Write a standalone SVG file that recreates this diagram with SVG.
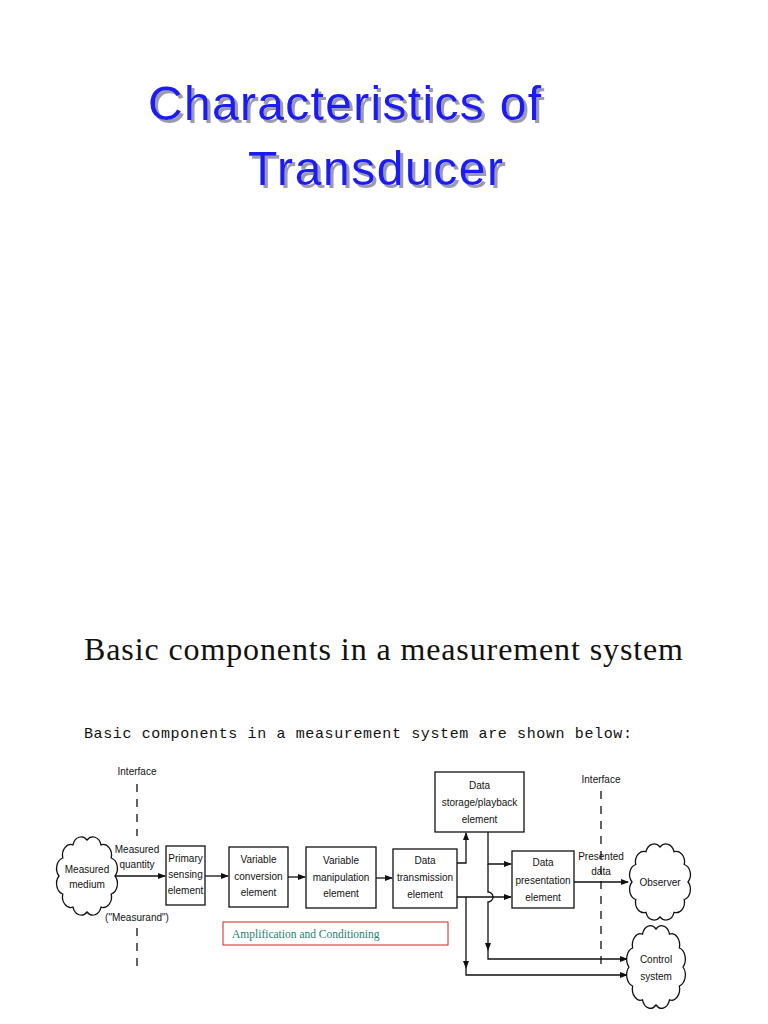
<svg xmlns="http://www.w3.org/2000/svg" width="768" height="1024" viewBox="0 0 768 1024">
<style>
.t{font-family:"Liberation Sans",Arial,sans-serif;font-size:10px;fill:#111;text-anchor:middle}
.b{fill:#fff;stroke:#111;stroke-width:1.3}
.l{fill:none;stroke:#111;stroke-width:1.3}
.d{fill:none;stroke:#111;stroke-width:1.3;stroke-dasharray:8 7}
.ttl{font-family:"Liberation Sans",Arial,sans-serif;font-size:48px;fill:#1c1cf0}
</style>
<defs>
<filter id="sh" x="-5%" y="-20%" width="110%" height="150%">
<feOffset in="SourceAlpha" dx="3" dy="3" result="o"/>
<feFlood flood-color="#9a9ab0"/><feComposite in2="o" operator="in" result="s"/>
<feMerge><feMergeNode in="s"/><feMergeNode in="SourceGraphic"/></feMerge>
</filter>
<marker id="a" markerWidth="8" markerHeight="8" refX="7" refY="4" orient="auto" markerUnits="userSpaceOnUse"><path d="M0,1 L8,4 L0,7z" fill="#111"/></marker>
<path id="cl" d="M1,0 A0.3,0.3 0 0 1 0.866,0.5 A0.3,0.3 0 0 1 0.5,0.866 A0.3,0.3 0 0 1 0,1 A0.3,0.3 0 0 1 -0.5,0.866 A0.3,0.3 0 0 1 -0.866,0.5 A0.3,0.3 0 0 1 -1,0 A0.3,0.3 0 0 1 -0.866,-0.5 A0.3,0.3 0 0 1 -0.5,-0.866 A0.3,0.3 0 0 1 0,-1 A0.3,0.3 0 0 1 0.5,-0.866 A0.3,0.3 0 0 1 0.866,-0.5 A0.3,0.3 0 0 1 1,0z" fill="#fff" stroke="#111" stroke-width="1.3" vector-effect="non-scaling-stroke"/>
</defs>
<rect width="768" height="1024" fill="#fff"/>
<g id="title" filter="url(#sh)">
<text class="ttl" x="148" y="120" textLength="393">Characteristics of</text>
<text class="ttl" x="248" y="185" textLength="255">Transducer</text>
</g>
<text x="84" y="660" font-family="Liberation Serif,serif" font-size="32" fill="#111" textLength="599">Basic components in a measurement system</text>
<text x="84" y="738" font-family="Liberation Mono,monospace" font-size="15" fill="#111" textLength="548">Basic components in a measurement system are shown below:</text>
<g id="connectors">
<path class="d" d="M137,784 V836 M137,928 V972 M601,791 V968"/>
<path class="l" d="M113,876 H165" marker-end="url(#a)"/>
<path class="l" d="M205,876 H228" marker-end="url(#a)"/>
<path class="l" d="M288,877 H305" marker-end="url(#a)"/>
<path class="l" d="M376,878 H392" marker-end="url(#a)"/>
<path class="l" d="M457,863 H466 V833" marker-end="url(#a)"/>
<path class="l" d="M488,832 V864 H511" marker-end="url(#a)"/>
<path class="l" d="M488,864 V892 A5,5 0 0 1 488,902 V950" marker-end="url(#a)"/>
<path class="l" d="M488,950 V959 H627" marker-end="url(#a)"/>
<path class="l" d="M457,897 H511" marker-end="url(#a)"/>
<path class="l" d="M466,897 V968" marker-end="url(#a)"/>
<path class="l" d="M466,968 V975 H627" marker-end="url(#a)"/>
<path class="l" d="M574,882 H628" marker-end="url(#a)"/>
</g>
<g id="medium"><use href="#cl" transform="translate(87,876) scale(28,36)"/><text class="t" x="87" y="873">Measured</text><text class="t" x="87" y="888">medium</text></g>
<g id="labels-left"><text class="t" x="137" y="775">Interface</text><text class="t" x="137" y="853">Measured</text><text class="t" x="137" y="868">quantity</text><text class="t" x="137" y="921">("Measurand")</text></g>
<g id="primary"><rect class="b" x="166" y="846" width="39" height="59"/><text class="t" x="185.5" y="862">Primary</text><text class="t" x="185.5" y="878">sensing</text><text class="t" x="185.5" y="894">element</text></g>
<g id="conversion"><rect class="b" x="229" y="847" width="59" height="60"/><text class="t" x="258.5" y="863">Variable</text><text class="t" x="258.5" y="880">conversion</text><text class="t" x="258.5" y="896">element</text></g>
<g id="manipulation"><rect class="b" x="306" y="847" width="70" height="61"/><text class="t" x="341" y="864">Variable</text><text class="t" x="341" y="881">manipulation</text><text class="t" x="341" y="897">element</text></g>
<g id="transmission"><rect class="b" x="393" y="849" width="64" height="59"/><text class="t" x="425" y="864">Data</text><text class="t" x="425" y="881">transmission</text><text class="t" x="425" y="898">element</text></g>
<g id="storage"><rect class="b" x="435" y="772" width="89" height="60"/><text class="t" x="479.5" y="789">Data</text><text class="t" x="479.5" y="806">storage/playback</text><text class="t" x="479.5" y="823">element</text></g>
<g id="presentation"><rect class="b" x="512" y="851" width="62" height="57"/><text class="t" x="543" y="866">Data</text><text class="t" x="543" y="884">presentation</text><text class="t" x="543" y="901">element</text></g>
<g id="labels-right"><text class="t" x="601" y="783">Interface</text><text class="t" x="601" y="860">Presented</text><text class="t" x="601" y="875">data</text></g>
<g id="observer"><use href="#cl" transform="translate(660,882) scale(28,35)"/><text class="t" x="660" y="886">Observer</text></g>
<g id="control"><use href="#cl" transform="translate(656,967) scale(27,38)"/><text class="t" x="656" y="963">Control</text><text class="t" x="656" y="980">system</text></g>
<g id="amp"><rect x="223" y="922" width="225" height="23" fill="#fff" stroke="#d62020" stroke-width="1"/><text x="232" y="938" font-family="Liberation Serif,serif" font-size="11.5" fill="#1f7f74">Amplification and Conditioning</text></g>
</svg>
